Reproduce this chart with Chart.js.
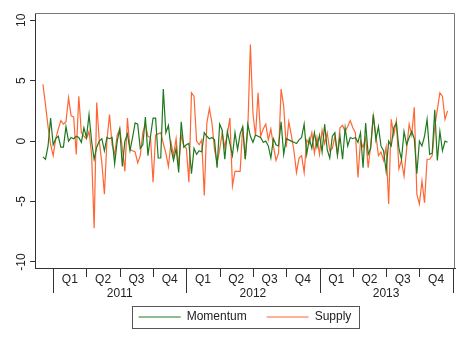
<!DOCTYPE html>
<html>
<head>
<meta charset="utf-8">
<script src="https://cdn.jsdelivr.net/npm/chart.js@4.4.1/dist/chart.umd.min.js"></script>
<style>
  html, body { margin: 0; padding: 0; background: #fff; }
</style>
</head>
<body>
<canvas id="chart" width="474" height="345"></canvas>
<script>
// weekly series, first point a few weeks before 2011
const momentum = [
  -1.3, -1.5, -0.4, 1.9, -0.3, 0.2, 0.4, -0.5, -0.5, 1.2,
  0.0, 0.3, 0.2, 0.4, 0.3, -0.1, 1.1, 0.3, 2.2, 0.0,
  -1.5, -0.5, 0.0, 0.2, -0.8, 0.3, 0.2, 0.3, -1.9, 0.0,
  1.0, -2.1, 0.0, 0.6, -0.8, 0.3, 1.5, 1.4, -0.6, -0.3,
  2.0, -1.2, 0.4, 1.9, 1.9, -1.4, -1.4, 4.3, 0.7, 1.3,
  -0.6, -1.6, -0.6, -2.6, 1.6, -0.5, -0.3, -0.2, -2.7, -0.6,
  -1.1, -0.8, -0.9, 0.7, 0.4, 0.2, 0.3, 0.1, -2.2, 1.4,
  0.9, -1.5, 0.8, -0.2, -1.2, 0.7, -0.7, 0.6, 1.2, -1.5,
  1.4, 0.4, -0.1, 0.5, 0.4, 0.3, -0.1, 0.0, -0.4, -1.4,
  0.2, -0.3, -0.4, 1.6, -1.1, 0.2, 0.1, 0.0, -0.1, -0.2,
  0.1, 0.3, 1.4, -1.1, 0.2, -0.6, 0.7, -0.5, 0.5, -0.9,
  1.4, -0.7, -1.4, 0.4, 0.7, -1.2, 0.4, -1.5, 1.1, -0.4,
  0.3, 0.2, 0.3, -0.1, 0.7, -2.2, 1.5, -1.1, -0.6, 2.2,
  0.1, 1.2, -0.4, -0.8, -2.5, 0.0, -0.4, 1.1, 1.5, -0.6,
  -1.5, 0.8, -0.3, 0.3, 0.8, 0.2, -2.7, 0.0, -0.4, 0.4,
  1.8, -1.1, -1.0, 2.6, -1.6, 0.8, -0.8, 0.0, -0.1
];
const supply = [
  4.7, 3.0, 1.2, -0.3, -1.2, 0.2, 1.0, 1.7, 1.4, 1.6,
  3.6, 2.1, 2.0, -1.1, 3.7, 0.7, 0.4, 0.2, 0.8, -1.1,
  -7.2, 3.2, 0.0, -1.8, -4.4, 0.1, 2.2, -0.3, -1.1, 0.5,
  1.0, -0.6, -2.5, 1.9, -0.7, -0.8, -0.9, -1.8, -1.2, 0.7,
  1.4, 0.4, 0.3, -3.4, 0.5, 0.6, 0.7, -0.2, -1.0, -2.1,
  -0.1, -1.2, 0.2, -2.1, 0.5, -0.4, -0.6, -3.4, 4.0, 3.7,
  0.0, -0.3, 0.1, -4.5, 1.5, 2.7, 1.5, -0.7, -1.8, -0.7,
  0.7, -0.5, 0.6, 1.9, -3.7, -2.5, -2.5, -2.5, 1.2, -1.5,
  1.0, 8.0, 2.3, 0.4, 4.0, 0.4, 1.0, 1.4, 0.1, 1.0,
  -0.4, -1.6, -1.0, 4.3, 2.9, -0.5, 1.6, 0.5, -0.8, -2.6,
  -1.4, -1.2, -2.6, 0.1, -0.2, 0.7, -1.0, 0.3, -1.1, 0.9,
  -0.2, 0.7, -0.8, -0.6, 0.4, -1.1, 1.1, 1.3, 0.8, 1.2,
  1.7, 1.1, 0.7, -3.0, 0.0, -0.5, 0.3, -2.2, -0.3, 2.1,
  0.5, -1.2, -0.9, -1.6, -0.5, -5.2, 1.8, 0.5, 1.7, -2.3,
  -1.6, -2.9, -0.7, 1.4, 0.5, 2.8, -4.4, -5.2, -3.3, -5.1,
  -1.5, -1.5, -1.2, 1.2, 2.6, 4.0, 3.7, 1.8, 2.5
];
const weeks = supply.map((_, i) => i);
const yTicks = [-10, -5, 0, 5, 10];
const quarters = ["Q1", "Q2", "Q3", "Q4"];
const years = ["2011", "2012", "2013"];
const firstWeek = 4;        // index of first week of 2011
const weeksPerQuarter = 13;

const FONT = "'Liberation Sans', Arial, sans-serif";
const TEXT = "#222";

const axisDecor = {
  id: "axisDecor",
  afterDraw(chart) {
    const ctx = chart.ctx;
    const a = chart.chartArea;
    const xs = chart.scales.x;
    const ys = chart.scales.y;
    ctx.save();

    // top and right of the frame
    ctx.strokeStyle = "#777";
    ctx.lineWidth = 1;
    ctx.beginPath();
    ctx.moveTo(a.left, a.top + 0.5);
    ctx.lineTo(a.right - 0.5, a.top + 0.5);
    ctx.lineTo(a.right - 0.5, a.bottom);
    ctx.stroke();

    // rotated y labels
    ctx.fillStyle = TEXT;
    ctx.font = "12px " + FONT;
    ctx.textAlign = "center";
    ctx.textBaseline = "middle";
    ys.ticks.forEach((t) => {
      const y = ys.getPixelForValue(t.value);
      ctx.save();
      ctx.translate(a.left - 13, y);
      ctx.rotate(-Math.PI / 2);
      ctx.fillText(String(t.value), 0, 0);
      ctx.restore();
    });

    // quarter / year axis
    ctx.strokeStyle = "#333";
    const nq = years.length * 4;
    for (let k = 0; k <= nq; k++) {
      const x = Math.round(xs.getPixelForValue(firstWeek + k * weeksPerQuarter)) + 0.5;
      const len = k % 4 === 0 ? 25 : 9;
      ctx.beginPath();
      ctx.moveTo(x, a.bottom);
      ctx.lineTo(x, a.bottom + len);
      ctx.stroke();
      if (k < nq) {
        const xm = xs.getPixelForValue(firstWeek + (k + 0.5) * weeksPerQuarter);
        ctx.fillText(quarters[k % 4], xm, a.bottom + 12);
      }
    }
    years.forEach((yr, j) => {
      const xm = xs.getPixelForValue(firstWeek + (j * 4 + 2) * weeksPerQuarter);
      ctx.fillText(yr, xm, a.bottom + 26);
    });

    // box round the legend
    const boxes = chart.legend.legendHitBoxes;
    if (boxes.length) {
      const l = Math.min(...boxes.map((b) => b.left)) - 7;
      const r = Math.max(...boxes.map((b) => b.left + b.width)) + 7;
      const cy = boxes[0].top + boxes[0].height / 2;
      ctx.strokeStyle = "#555";
      ctx.strokeRect(Math.round(l) + 0.5, Math.round(cy - 11) + 0.5, Math.round(r - l), 22);
    }
    ctx.restore();
  }
};

new Chart(document.getElementById("chart"), {
  type: "line",
  data: {
    labels: weeks,
    datasets: [
      {
        label: "Momentum",
        data: momentum,
        borderColor: "#1f7a1f",
        backgroundColor: "#1f7a1f",
        borderWidth: 1.2,
        pointRadius: 0,
        tension: 0,
      },
      {
        label: "Supply",
        data: supply,
        borderColor: "#ff6633",
        backgroundColor: "#ff6633",
        borderWidth: 1.2,
        pointRadius: 0,
        tension: 0,
      },
    ],
  },
  options: {
    responsive: false,
    animation: false,
    devicePixelRatio: 1,
    layout: { padding: { top: 13, right: 19, left: 0, bottom: 12 } },
    plugins: {
      tooltip: { enabled: false },
      legend: {
        position: "bottom",
        fullSize: false,
        labels: {
          usePointStyle: true,
          pointStyle: "line",
          pointStyleWidth: 42,
          padding: 20,
          color: TEXT,
          font: { family: FONT, size: 12 },
        },
      },
    },
    scales: {
      x: {
        type: "linear",
        min: -3.1,
        max: 160.9,
        grid: { display: false },
        ticks: { display: false },
        border: { display: true, color: "#333", width: 1 },
        afterFit: (s) => { s.height = 23; },
      },
      y: {
        min: -10.5,
        max: 10.6,
        afterBuildTicks: (s) => { s.ticks = yTicks.map((v) => ({ value: v })); },
        grid: { display: true, drawOnChartArea: false, drawTicks: true, tickLength: 5, color: "#333" },
        ticks: { display: false },
        border: { display: true, color: "#333", width: 1 },
        afterFit: (s) => { s.width = 35; },
      },
    },
  },
  plugins: [axisDecor],
});
</script>
</body>
</html>
